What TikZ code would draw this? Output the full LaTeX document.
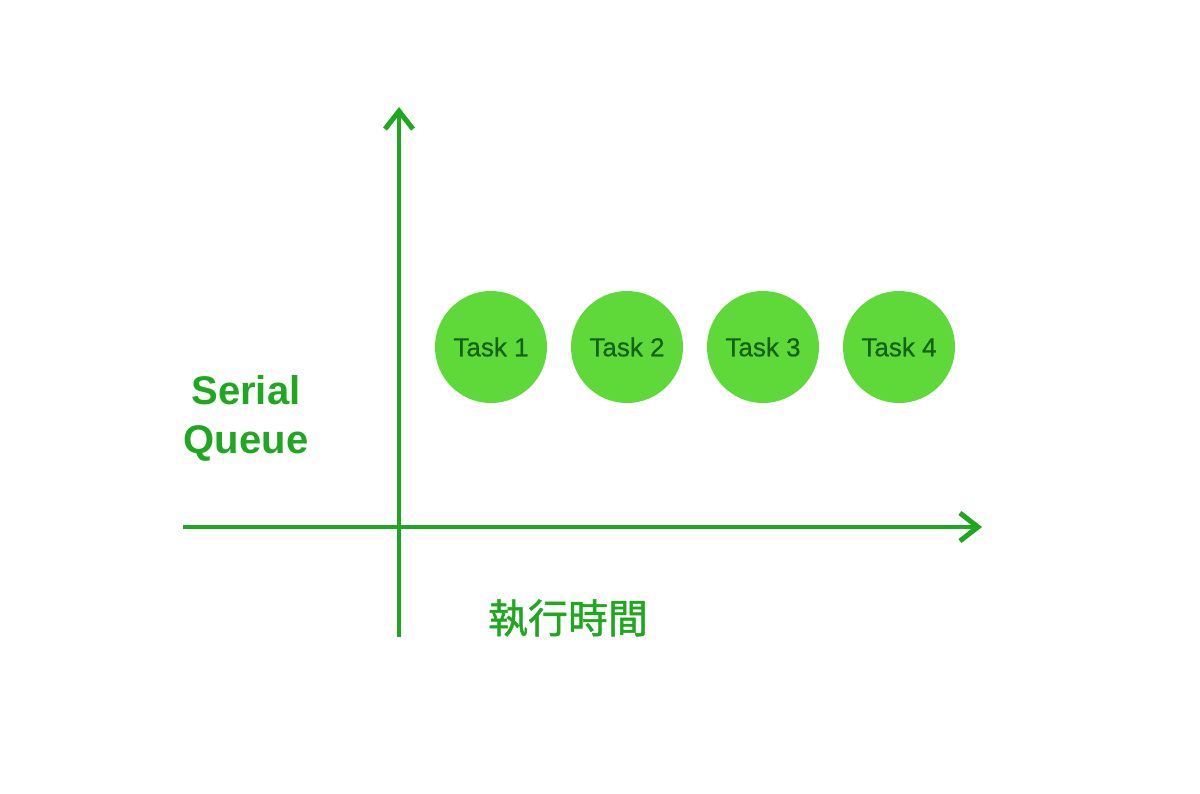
\documentclass[tikz,border=0pt]{standalone}
\usepackage{fontspec}
\setmainfont{Liberation Sans}
\newfontfamily\cjk{Noto Sans CJK TC}[FakeBold=1.2]
\newfontfamily\taskfont{Liberation Sans}[FakeBold=0.6]
\usetikzlibrary{arrows.meta}
\definecolor{axisgreen}{HTML}{1FA81F}
\definecolor{taskfill}{HTML}{5FD93A}
\definecolor{taskink}{HTML}{116411}

\begin{document}
\begin{tikzpicture}[x=0.5pt,y=-0.5pt,
 task/.style={circle,fill=taskfill,minimum size=56pt,inner sep=0pt,
 text=taskink,font=\taskfont\fontsize{13}{15}\selectfont},
 axis/.style={draw=axisgreen,line width=2.3pt,
 -{Straight Barb[length=9pt,width=14pt,line width=2.5pt]}},
 lbl/.style={text=axisgreen,align=center}]
\useasboundingbox (0,0) rectangle (1200,793);
\coordinate (ylow) at (399,637);
\coordinate (ytop) at (399,107);
\coordinate (xlow) at (183,527);
\coordinate (xtop) at (982,527);
\draw[axis] (ylow)--(ytop);
\draw[axis] (xlow)--(xtop);
\node[task] (t1) at (491,347) {Task 1};
\node[task] (t2) at (627,347) {Task 2};
\node[task] (t3) at (763,347) {Task 3};
\node[task] (t4) at (899,347) {Task 4};
\node[lbl,font=\bfseries\fontsize{20}{24.5}\selectfont] (queue) at (246,418)
 {Serial\\Queue};
\node[lbl,font=\cjk\fontsize{20}{24}\selectfont] (time) at (568,618) {執行時間};
\end{tikzpicture}
\end{document}
